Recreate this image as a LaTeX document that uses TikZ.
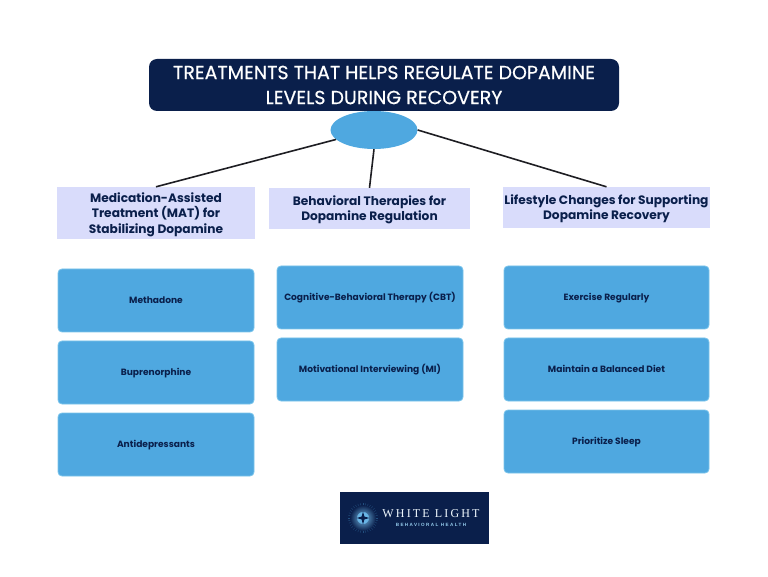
\documentclass[tikz,border=0pt]{standalone}
\usepackage{fontspec}
\setmainfont{Poppins}
\newfontfamily\titlefont[FakeBold=0.5]{Poppins}
\newfontfamily\logofont[LetterSpace=18]{Liberation Serif}
\newfontfamily\logosmall[LetterSpace=30]{Liberation Sans}
\usetikzlibrary{shapes.geometric, positioning}
\definecolor{navy}{RGB}{10,31,75}
\definecolor{sky}{RGB}{79,168,224}
\definecolor{skyedge}{RGB}{122,196,235}
\definecolor{lavender}{RGB}{217,220,251}
\definecolor{link}{RGB}{30,30,35}
\newcommand{\headstrut}{\rule{0pt}{12.5pt}}

\begin{document}
\begin{tikzpicture}[
    x=1pt, y=1pt,
    title/.style={rectangle, rounded corners=8pt, fill=navy, text=white, minimum width=470pt, minimum height=52pt, align=center, font=\titlefont\fontsize{19}{25}\selectfont},
    hub/.style={ellipse, fill=sky, minimum width=87pt, minimum height=38pt, inner sep=0pt},
    heading/.style={rectangle, fill=lavender, text=navy, align=center, inner sep=0pt, font=\fontsize{12.2}{15.5}\selectfont\bfseries},
    item/.style={rectangle, rounded corners=4pt, draw=skyedge, line width=0.8pt, outer sep=0pt, fill=sky, text=navy, minimum height=63pt, inner sep=0pt, text height=8.5pt, text depth=2pt, font=\fontsize{9.1}{11}\selectfont\bfseries},
    branch/.style={draw=link, line width=1.6pt}
]

\useasboundingbox (0,0) rectangle (768,576);
\fill[white] (0,0) rectangle (768,576);

% top of the tree
\node[title] (main) at (384,491) {TREATMENTS THAT HELPS REGULATE DOPAMINE\\LEVELS DURING RECOVERY};
\node[hub] (center) at (374,446) {};

% headings
\node[heading, minimum width=198pt, minimum height=52pt] (mat) at (156,363) {\headstrut Medication-Assisted\\Treatment (MAT) for\\Stabilizing Dopamine};
\node[heading, minimum width=201pt, minimum height=41pt] (behav) at (369.5,367.5) {\headstrut Behavioral Therapies for\\Dopamine Regulation};
\node[heading, minimum width=207pt, minimum height=41pt] (life) at (606.5,368.5) {\headstrut Lifestyle Changes for Supporting\\Dopamine Recovery};

\draw[branch] (center.194) -- (mat.north);
\draw[branch] (center.south) -- (behav.north);
\draw[branch] (center.east) -- (life.north);

% left column
\node[item, minimum width=196pt] (methadone) at (156,275.5) {Methadone};
\node[item, minimum width=196pt, below=9pt of methadone] (bupre) {Buprenorphine};
\node[item, minimum width=196pt, below=9pt of bupre] (anti) {Antidepressants};

% middle column
\node[item, minimum width=186pt] (cbt) at (370,278.5) {Cognitive-Behavioral Therapy (CBT)};
\node[item, minimum width=186pt, below=9pt of cbt] (mi) {Motivational Interviewing (MI)};

% right column
\node[item, minimum width=205pt] (exercise) at (606.5,278.5) {Exercise Regularly};
\node[item, minimum width=205pt, below=9pt of exercise] (diet) {Maintain a Balanced Diet};
\node[item, minimum width=205pt, below=9pt of diet] (sleep) {Prioritize Sleep};

% logo
\node[rectangle, fill=navy, minimum width=149pt, minimum height=52pt, inner sep=0pt] (logo) at (414.5,58) {};
\foreach \a in {0,10,...,350}
    \draw[sky!35!navy, line width=0.35pt] (363,58) ++(\a:6) -- ++(\a:9);
\shade[inner color=sky!80!white, outer color=navy] (363,58) circle (13);
\fill[sky!85!white] (363,58) circle (6);
\fill[navy] (363,64.5) -- (364.4,59.4) -- (369.5,58) -- (364.4,56.6) -- (363,51.5) -- (361.6,56.6) -- (356.5,58) -- (361.6,59.4) -- cycle;
\node[text=white!90!sky, font=\logofont\fontsize{12}{12}\selectfont, inner sep=0pt] (logoname) at (431,62) {WHITE LIGHT};
\node[text=sky!60!white, font=\logosmall\fontsize{4.6}{5}\selectfont\bfseries, inner sep=0pt, below=4.5pt of logoname] (logosub) {BEHAVIORAL HEALTH};

\end{tikzpicture}
\end{document}
